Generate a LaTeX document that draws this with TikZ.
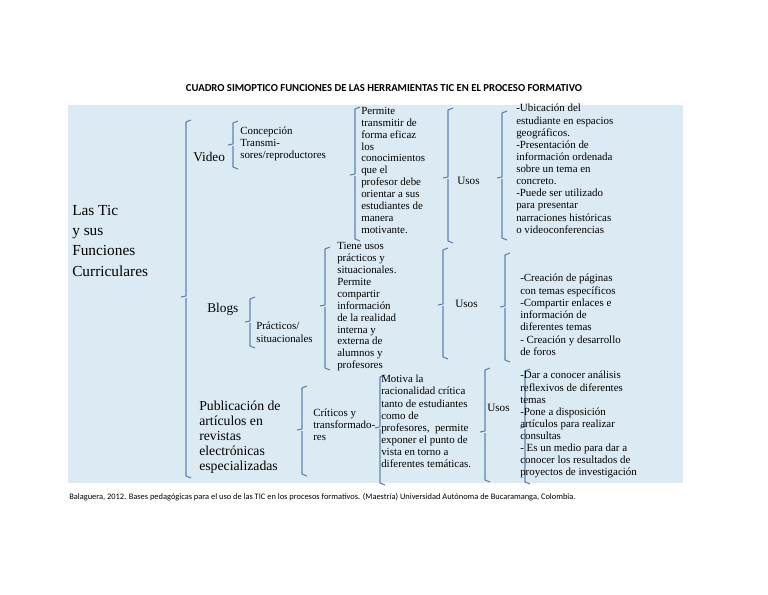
\documentclass[tikz,border=0pt]{standalone}
\usepackage{fontspec}
\setmainfont{Liberation Serif}
\newfontfamily\calfont{Carlito}
\definecolor{panel}{HTML}{DCEBF3}
\definecolor{brc}{HTML}{5E84AE}
\newcommand\mybrace[4]{\draw[brcline] (#1+5,#2) -- (#1,#2+2) -- (#1,#4-1) -- (#1-5,#4) (#1,#4+1) -- (#1,#3-2) -- (#1+5,#3);}
\begin{document}
\begin{tikzpicture}[x=0.75pt,y=-0.75pt,
  brcline/.style={draw=brc,line width=0.8pt,line join=round},
  txt/.style={anchor=north west,inner sep=0pt,align=left,font=\fontsize{8.2}{8.9}\selectfont},
  usos/.style={anchor=west,inner sep=0pt,font=\fontsize{8.4}{9}\selectfont}]
\useasboundingbox (0,0) rectangle (768,594);
\fill[white] (0,0) rectangle (768,594);
\fill[panel] (68,105) rectangle (683,483);
\node[inner sep=0pt,font=\calfont\bfseries\fontsize{8}{9}\selectfont] (title) at (384,88) {CUADRO SIMOPTICO FUNCIONES DE LAS HERRAMIENTAS TIC EN EL PROCESO FORMATIVO};
% braces
\mybrace{186}{120}{478}{297}
\mybrace{233}{121}{169}{145}
\mybrace{355}{107}{241}{175}
\mybrace{448}{108}{243}{178}
\mybrace{502}{111}{240}{178}
\mybrace{250}{297}{348}{322}
\mybrace{325}{247}{370}{306}
\mybrace{443}{248}{359}{305}
\mybrace{505}{253}{362}{307}
\mybrace{302}{386}{476}{430}
\mybrace{380}{375}{485}{428}
\mybrace{485}{368}{482}{432}
\mybrace{525}{369}{484}{428}
% texts
\node[anchor=north west,inner sep=0pt,align=left,font=\fontsize{11.5}{15.2}\selectfont] (root) at (72,205) {Las Tic\\y sus\\Funciones\\Curriculares};
\node[anchor=west,inner sep=0pt,font=\fontsize{10}{11}\selectfont] (video) at (193,157) {Video};
\node[txt] (conc) at (240,127) {Concepción\\Transmi-\\sores/reproductores};
\node[txt] (perm) at (361,107) {Permite\\transmitir de\\forma eficaz\\los\\conocimientos\\que el\\profesor debe\\orientar a sus\\estudiantes de\\manera\\motivante.};
\node[usos] (u1) at (457,181) {Usos};
\node[txt,font=\fontsize{8.2}{9.1}\selectfont] (r1) at (516,104) {-Ubicación del\\estudiante en espacios\\geográficos.\\-Presentación de\\información ordenada\\sobre un tema en\\concreto.\\-Puede ser utilizado\\para presentar\\narraciones históricas\\o videoconferencias};
\node[anchor=west,inner sep=0pt,font=\fontsize{10}{11}\selectfont] (blogs) at (207,309) {Blogs};
\node[txt,font=\fontsize{8.2}{9.8}\selectfont] (prac) at (256,322) {Prácticos/\\situacionales};
\node[txt,font=\fontsize{8.2}{8.95}\selectfont] (tiene) at (337,242) {Tiene usos\\prácticos y\\situacionales.\\Permite\\compartir\\información\\de la realidad\\interna y\\externa de\\alumnos y\\profesores};
\node[usos] (u2) at (455,304) {Usos};
\node[txt,font=\fontsize{8.2}{9.2}\selectfont] (r2) at (520,274) {-Creación de páginas\\con temas específicos\\-Compartir enlaces e\\información de\\diferentes temas\\- Creación y desarrollo\\de foros};
\node[anchor=north west,inner sep=0pt,align=left,font=\fontsize{10.3}{11.1}\selectfont] (pub) at (199,401) {Publicación de\\artículos en\\revistas\\electrónicas\\especializadas};
\node[txt] (crit) at (313,409) {Críticos y\\transformado-\\res};
\node[txt,font=\fontsize{8.2}{9.1}\selectfont] (mot) at (381,375) {Motiva la\\racionalidad crítica\\tanto de estudiantes\\como de\\profesores,\ \ permite\\exponer el punto de\\vista en torno a\\diferentes temáticas.};
\node[usos] (u3) at (487,408) {Usos};
\node[txt,font=\fontsize{8.2}{9.1}\selectfont] (r3) at (520,371) {-Dar a conocer análisis\\reflexivos de diferentes\\temas\\-Pone a disposición\\artículos para realizar\\consultas\\- Es un medio para dar a\\conocer los resultados de\\proyectos de investigación};
\node[anchor=west,inner sep=0pt,font=\calfont\fontsize{6.3}{7}\selectfont] (cap) at (69,497) {Balaguera, 2012. Bases pedagógicas para el uso de las TIC en los procesos formativos. (Maestría) Universidad Autónoma de Bucaramanga, Colombia.};
\end{tikzpicture}
\end{document}
